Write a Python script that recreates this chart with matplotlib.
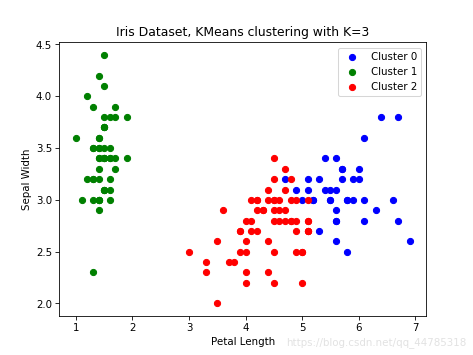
import matplotlib
matplotlib.use("Agg")
import matplotlib.pyplot as plt
import numpy as np

petal_length = [
    1.4, 1.4, 1.3, 1.5, 1.4, 1.7, 1.4, 1.5, 1.4, 1.5,
    1.5, 1.6, 1.4, 1.1, 1.2, 1.5, 1.3, 1.4, 1.7, 1.5,
    1.7, 1.5, 1.0, 1.7, 1.9, 1.6, 1.6, 1.5, 1.4, 1.6,
    1.6, 1.5, 1.5, 1.4, 1.5, 1.2, 1.3, 1.4, 1.3, 1.5,
    1.3, 1.3, 1.3, 1.6, 1.9, 1.4, 1.6, 1.4, 1.5, 1.4,
    4.7, 4.5, 4.9, 4.0, 4.6, 4.5, 4.7, 3.3, 4.6, 3.9,
    3.5, 4.2, 4.0, 4.7, 3.6, 4.4, 4.5, 4.1, 4.5, 3.9,
    4.8, 4.0, 4.9, 4.7, 4.3, 4.4, 4.8, 5.0, 4.5, 3.5,
    3.8, 3.7, 3.9, 5.1, 4.5, 4.5, 4.7, 4.4, 4.1, 4.0,
    4.4, 4.6, 4.0, 3.3, 4.2, 4.2, 4.2, 4.3, 3.0, 4.1,
    6.0, 5.1, 5.9, 5.6, 5.8, 6.6, 4.5, 6.3, 5.8, 6.1,
    5.1, 5.3, 5.5, 5.0, 5.1, 5.3, 5.5, 6.7, 6.9, 5.0,
    5.7, 4.9, 6.7, 4.9, 5.7, 6.0, 4.8, 4.9, 5.6, 5.8,
    6.1, 6.4, 5.6, 5.1, 5.6, 6.1, 5.6, 5.5, 4.8, 5.4,
    5.6, 5.1, 5.1, 5.9, 5.7, 5.2, 5.0, 5.2, 5.4, 5.1,
]

sepal_width = [
    3.5, 3.0, 3.2, 3.1, 3.6, 3.9, 3.4, 3.4, 2.9, 3.1,
    3.7, 3.4, 3.0, 3.0, 4.0, 4.4, 3.9, 3.5, 3.8, 3.8,
    3.4, 3.7, 3.6, 3.3, 3.4, 3.0, 3.4, 3.5, 3.4, 3.2,
    3.1, 3.4, 4.1, 4.2, 3.1, 3.2, 3.5, 3.6, 3.0, 3.4,
    3.5, 2.3, 3.2, 3.5, 3.8, 3.0, 3.8, 3.2, 3.7, 3.3,
    3.2, 3.2, 3.1, 2.3, 2.8, 2.8, 3.3, 2.4, 2.9, 2.7,
    2.0, 3.0, 2.2, 2.9, 2.9, 3.1, 3.0, 2.7, 2.2, 2.5,
    3.2, 2.8, 2.5, 2.8, 2.9, 3.0, 2.8, 3.0, 2.9, 2.6,
    2.4, 2.4, 2.7, 2.7, 3.0, 3.4, 3.1, 2.3, 3.0, 2.5,
    2.6, 3.0, 2.6, 2.3, 2.7, 3.0, 2.9, 2.9, 2.5, 2.8,
    3.3, 2.7, 3.0, 2.9, 3.0, 3.0, 2.5, 2.9, 2.5, 3.6,
    3.2, 2.7, 3.0, 2.5, 2.8, 3.2, 3.0, 3.8, 2.6, 2.2,
    3.2, 2.8, 2.8, 2.7, 3.3, 3.2, 2.8, 3.0, 2.8, 3.0,
    2.8, 3.8, 2.8, 2.8, 2.6, 3.0, 3.4, 3.1, 3.0, 3.1,
    3.1, 3.1, 2.7, 3.2, 3.3, 3.0, 2.5, 3.0, 3.4, 3.0,
]

cluster_labels = [
    1, 1, 1, 1, 1, 1, 1, 1, 1, 1,
    1, 1, 1, 1, 1, 1, 1, 1, 1, 1,
    1, 1, 1, 1, 1, 1, 1, 1, 1, 1,
    1, 1, 1, 1, 1, 1, 1, 1, 1, 1,
    1, 1, 1, 1, 1, 1, 1, 1, 1, 1,
    0, 2, 0, 2, 2, 2, 2, 2, 2, 2,
    2, 2, 2, 2, 2, 2, 2, 2, 2, 2,
    2, 2, 2, 2, 2, 2, 2, 0, 2, 2,
    2, 2, 2, 2, 2, 2, 2, 2, 2, 2,
    2, 2, 2, 2, 2, 2, 2, 2, 2, 2,
    0, 2, 0, 0, 0, 0, 2, 0, 0, 0,
    0, 0, 0, 2, 2, 0, 0, 0, 0, 2,
    0, 2, 0, 2, 0, 0, 2, 2, 0, 0,
    0, 0, 0, 2, 0, 0, 0, 0, 2, 0,
    0, 0, 2, 0, 0, 0, 2, 0, 0, 2,
]

cluster_names = ["Cluster 0", "Cluster 1", "Cluster 2"]
cluster_colors = ["blue", "green", "red"]

x = np.array(petal_length)
y = np.array(sepal_width)
lab = np.array(cluster_labels)

fig = plt.figure(figsize=(6.4, 4.8), dpi=74)
ax = fig.add_subplot(111)
for k, (name, col) in enumerate(zip(cluster_names, cluster_colors)):
    m = lab == k
    ax.scatter(x[m], y[m], c=col, label=name)

ax.set_title("Iris Dataset, KMeans clustering with K=3")
ax.set_xlabel("Petal Length")
ax.set_ylabel("Sepal Width")
ax.legend(loc="upper right")

fig.text(0.985, 0.035, "https://blog.csdn.net/qq_44785318", ha="right", va="center",
         fontsize=10, color="#e2e2e2")

fig.savefig("out.png", dpi=74)
